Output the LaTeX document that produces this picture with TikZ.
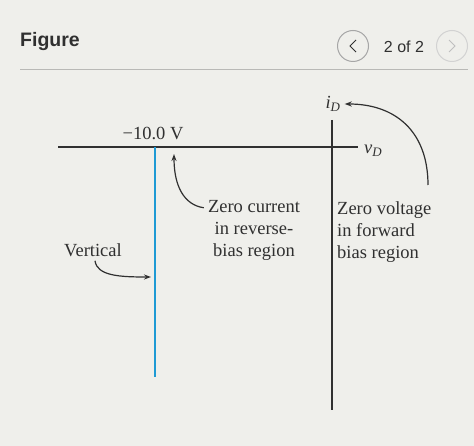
\documentclass[tikz,border=0pt]{standalone}
\usepackage{fontspec}
\setmainfont{Liberation Serif}
\newfontfamily\headfont{Liberation Sans}
\usetikzlibrary{arrows.meta}
\definecolor{bggray}{HTML}{EFEFEB}
\definecolor{inkgray}{HTML}{303030}
\definecolor{rulegray}{HTML}{B9B9B6}
\definecolor{diodeblue}{HTML}{1E9AD4}
\newcommand{\varsub}[2]{\textit{#1}\textsubscript{\textit{#2}}}
\tikzset{
  lbl/.style={font=\fontsize{18.5}{22}\selectfont, text=inkgray, inner sep=0pt},
  axisline/.style={draw=inkgray, line width=1.8pt},
  pointer/.style={draw=inkgray, line width=1.2pt, -{Stealth[length=7pt,width=5pt]}},
  navbtn/.style={circle, draw=#1, line width=1pt, minimum size=31pt, inner sep=0pt}
}
\begin{document}
\begin{tikzpicture}[x=1pt, y=-1pt]
    \useasboundingbox[fill=bggray] (0,0) rectangle (474,446);

    % Header
    \node[anchor=west, inner sep=0pt, text=inkgray,
          font=\headfont\bfseries\fontsize{19.5}{22}\selectfont] (fig) at (20,42) {Figure};
    \node[navbtn=gray!70] (prev) at (353,46) {};
    \draw[inkgray, line width=1pt] ([shift={(3,-6)}]prev.center) -- ++(-6,6) -- ++(6,6);
    \node[inner sep=0pt, text=inkgray, font=\headfont\fontsize{16}{18}\selectfont] (page) at (404,47) {2 of 2};
    \node[navbtn=gray!35] (next) at (452,46) {};
    \draw[gray!50, line width=1pt] ([shift={(-3,-6)}]next.center) -- ++(6,6) -- ++(-6,6);
    \draw[rulegray, line width=1pt] (20,70) -- (468,70);

    % Axes
    \coordinate (xleft) at (58,147);
    \coordinate (xright) at (358,147);
    \coordinate (ytop) at (332,120);
    \coordinate (ybot) at (332,410);
    \draw[axisline] (xleft) -- (xright);
    \draw[axisline] (ytop) -- (ybot);
    \node[lbl, anchor=west] (vD) at (364,151) {\varsub{v}{D}};
    \node[lbl] (iD) at (333,104) {\varsub{i}{D}};

    % Vertical part at -10 V
    \coordinate (bluetop) at (155,147);
    \coordinate (bluebot) at (155,377);
    \draw[diodeblue, line width=2.6pt] (bluetop) -- (bluebot);
    \node[lbl] (vbr) at (153,133) {−10.0 V};

    % Region labels
    \node[lbl, align=center] (zc) at (254,230) {Zero current\\in reverse-\\bias region};
    \node[lbl, align=left, anchor=west] (zv) at (337,232) {Zero voltage\\in forward\\bias region};
    \node[lbl] (vert) at (93,250) {Vertical};

    % Pointers
    \coordinate (zctip) at (174,154);
    \coordinate (verttip) at (151,277);
    \coordinate (fwdend) at (428,185);
    \draw[pointer] ([shift={(-4,8)}]zc.north west) .. controls (184,205) and (174,186) .. (zctip);
    \draw[pointer] ([shift={(2,4)}]vert.south) .. controls (97,276) and (120,277) .. (verttip);
    \draw[pointer] (fwdend) .. controls (428,132) and (396,104) .. ([xshift=4]iD.east);
\end{tikzpicture}
\end{document}
